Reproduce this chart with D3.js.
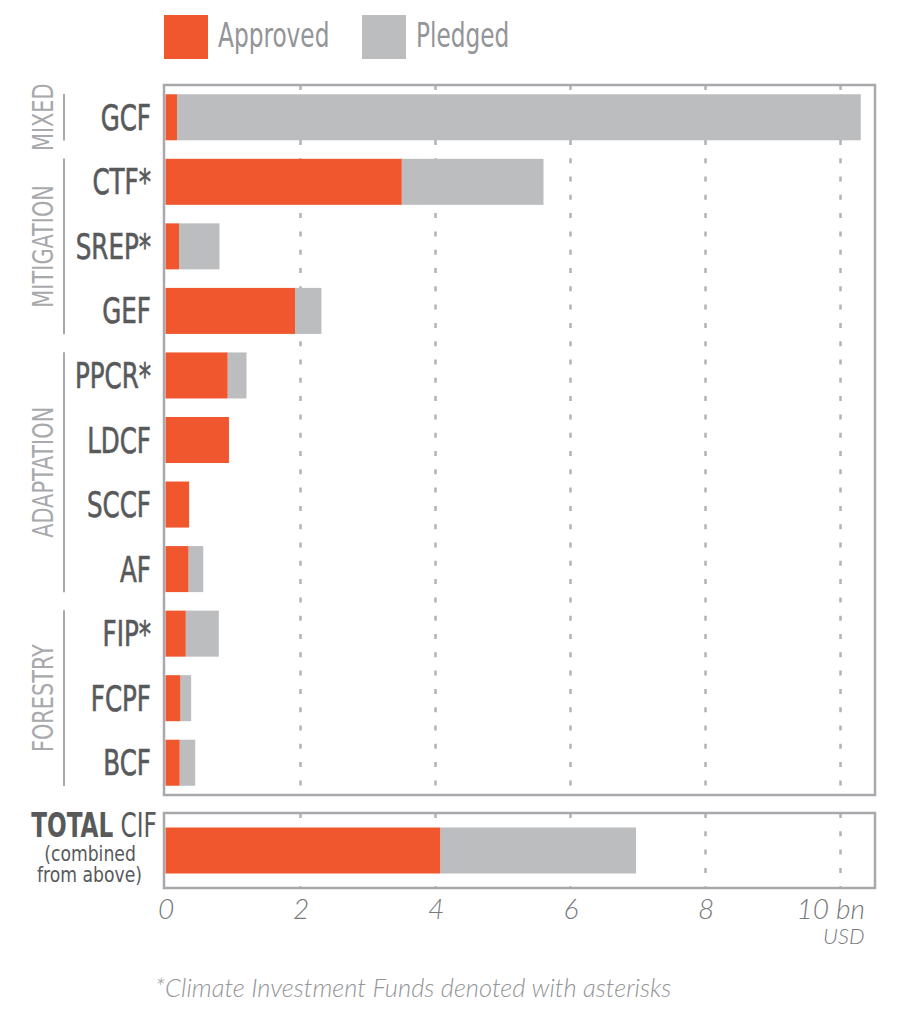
<!DOCTYPE html>
<meta charset="utf-8">
<style>
  body { margin: 0; background: #fff; }
  .cond { font-family: "Liberation Sans Narrow", "DejaVu Sans Condensed", sans-serif; }
  .ital { font-family: Lato, "Open Sans", sans-serif; font-style: italic; }
</style>
<svg width="898" height="1024"></svg>
<script src="https://d3js.org/d3.v7.min.js"></script>
<script>
  // values in bn USD
  var funds = ["GCF", "CTF*", "SREP*", "GEF", "PPCR*", "LDCF", "SCCF", "AF", "FIP*", "FCPF", "BCF"];
  var approved = [0.17, 3.5, 0.2, 1.92, 0.92, 0.94, 0.35, 0.34, 0.3, 0.22, 0.21];
  var pledged = [10.3, 5.6, 0.8, 2.31, 1.2, 0.94, 0.35, 0.56, 0.79, 0.38, 0.44];
  var groupNames = ["MIXED", "MITIGATION", "ADAPTATION", "FORESTRY"];
  var groupFirst = ["GCF", "CTF*", "PPCR*", "FIP*"];
  var groupLast = ["GCF", "GEF", "AF", "BCF"];
  var totalApproved = 4.07;
  var totalPledged = 6.97;
  var tickValues = [0, 2, 4, 6, 8, 10];

  var orange = "#f0572e", grey = "#bcbdbf", frame = "#a7a9ac", dark = "#58595b";

  var svg = d3.select("svg");

  var x = d3.scaleLinear().domain([0, 10]).range([165.5, 840.5]);
  var y = d3.scaleBand().domain(funds).range([85, 795]).paddingInner(0.287).paddingOuter(0.1435);
  var yTotal = d3.scaleBand().domain(["TOTAL CIF"]).range([813, 888]).paddingOuter(0.315);

  var rows = funds.map(function(f, i) {
    return { name: f, approved: approved[i], pledged: pledged[i] };
  });

  // grid lines (dashed), both panels
  var grid = svg.append("g");
  [[85, 795], [813, 888]].forEach(function(ext) {
    grid.selectAll(null)
      .data(tickValues.slice(1))
      .enter().append("line")
      .attr("x1", function(d) { return x(d); })
      .attr("x2", function(d) { return x(d); })
      .attr("y1", ext[0])
      .attr("y2", ext[1])
      .attr("stroke", "#b1b3b6")
      .attr("stroke-width", 2.5)
      .attr("stroke-dasharray", "5,13.3");
  });

  // bars
  var bars = svg.append("g");
  bars.selectAll(".pl")
    .data(rows)
    .enter().append("rect")
    .attr("class", "pl")
    .attr("x", function(d) { return x(d.approved); })
    .attr("y", function(d) { return y(d.name); })
    .attr("width", function(d) { return Math.max(0, x(d.pledged) - x(d.approved)); })
    .attr("height", y.bandwidth())
    .attr("fill", grey);
  bars.selectAll(".ap")
    .data(rows)
    .enter().append("rect")
    .attr("class", "ap")
    .attr("x", x(0))
    .attr("y", function(d) { return y(d.name); })
    .attr("width", function(d) { return x(d.approved) - x(0); })
    .attr("height", y.bandwidth())
    .attr("fill", orange);

  bars.append("rect")
    .attr("x", x(totalApproved))
    .attr("y", yTotal("TOTAL CIF"))
    .attr("width", x(totalPledged) - x(totalApproved))
    .attr("height", yTotal.bandwidth())
    .attr("fill", grey);
  bars.append("rect")
    .attr("x", x(0))
    .attr("y", yTotal("TOTAL CIF"))
    .attr("width", x(totalApproved) - x(0))
    .attr("height", yTotal.bandwidth())
    .attr("fill", orange);

  // frames
  svg.append("rect").attr("x", 164).attr("y", 85).attr("width", 711).attr("height", 710)
    .attr("fill", "none").attr("stroke", frame).attr("stroke-width", 2.5);
  svg.append("rect").attr("x", 164).attr("y", 813).attr("width", 711).attr("height", 75)
    .attr("fill", "none").attr("stroke", frame).attr("stroke-width", 2.5);

  // condensed text helper
  function condText(parent, tx, ty, sx, txt, anchor) {
    var g = parent.append("g").attr("transform", "translate(" + tx + "," + ty + ") scale(" + sx + ",1)");
    return g.append("text").attr("class", "cond").attr("text-anchor", anchor || "start").text(txt);
  }

  // fund labels
  var labels = svg.append("g");
  rows.forEach(function(d) {
    condText(labels, 151, y(d.name) + y.bandwidth() / 2 + 12.5, 0.78, d.name, "end")
      .attr("font-size", 35).attr("fill", dark)
      .attr("stroke", dark).attr("stroke-width", 0.6);
  });

  // group labels and separators
  var groups = svg.append("g");
  groupNames.forEach(function(name, i) {
    var top = y(groupFirst[i]) - y.step() * y.paddingInner() / 2 + 9;
    var bot = y(groupLast[i]) + y.bandwidth() + y.step() * y.paddingInner() / 2 - 9;
    groups.append("line")
      .attr("x1", 64).attr("x2", 64).attr("y1", top).attr("y2", bot)
      .attr("stroke", frame).attr("stroke-width", 2);
    groups.append("g")
      .attr("transform", "translate(53," + ((top + bot) / 2) + ") rotate(-90) scale(0.8,1)")
      .append("text").attr("class", "cond")
      .attr("text-anchor", "middle")
      .attr("font-size", 29)
      .attr("fill", frame)
      .text(name);
  });

  // total label
  var tl = condText(svg, 94, 837, 0.78, "", "middle").attr("font-size", 33).attr("fill", dark);
  tl.append("tspan").attr("font-weight", "bold").text("TOTAL");
  tl.append("tspan").text(" CIF");
  condText(svg, 90, 861, 0.87, "(combined", "middle").attr("font-size", 22).attr("fill", dark);
  condText(svg, 89.5, 882, 0.87, "from above)", "middle").attr("font-size", 22).attr("fill", dark);

  // x axis
  var axis = svg.append("g")
    .attr("transform", "translate(0,888)")
    .call(d3.axisBottom(x).tickValues(tickValues).tickSize(0).tickPadding(31)
      .tickFormat(function(d) { return d === 10 ? "10 bn" : d; }));
  axis.select(".domain").remove();
  axis.selectAll("text")
    .attr("class", "ital")
    .attr("font-size", 28)
    .attr("font-weight", 300)
    .attr("fill", "#77797c")
    .attr("dy", 0);
  axis.selectAll(".tick").filter(function(d) { return d === 10; }).select("text")
    .attr("text-anchor", "end").attr("dx", 24);
  svg.append("text").attr("class", "ital")
    .attr("x", x(10) + 24).attr("y", 944)
    .attr("text-anchor", "end")
    .attr("font-size", 22)
    .attr("font-weight", 300)
    .attr("fill", "#77797c")
    .text("USD");

  // legend
  var legend = svg.append("g");
  [["Approved", orange, 164], ["Pledged", grey, 362]].forEach(function(l) {
    legend.append("rect").attr("x", l[2]).attr("y", 15).attr("width", 44).attr("height", 44).attr("fill", l[1]);
    condText(legend, l[2] + 54, 47, 0.76, l[0], "start").attr("font-size", 34).attr("fill", "#939598");
  });

  // footnote
  svg.append("text").attr("class", "ital")
    .attr("x", 155).attr("y", 997)
    .attr("font-size", 25.5)
    .attr("font-weight", 300)
    .attr("fill", "#939598")
    .text("*Climate Investment Funds denoted with asterisks");
</script>
